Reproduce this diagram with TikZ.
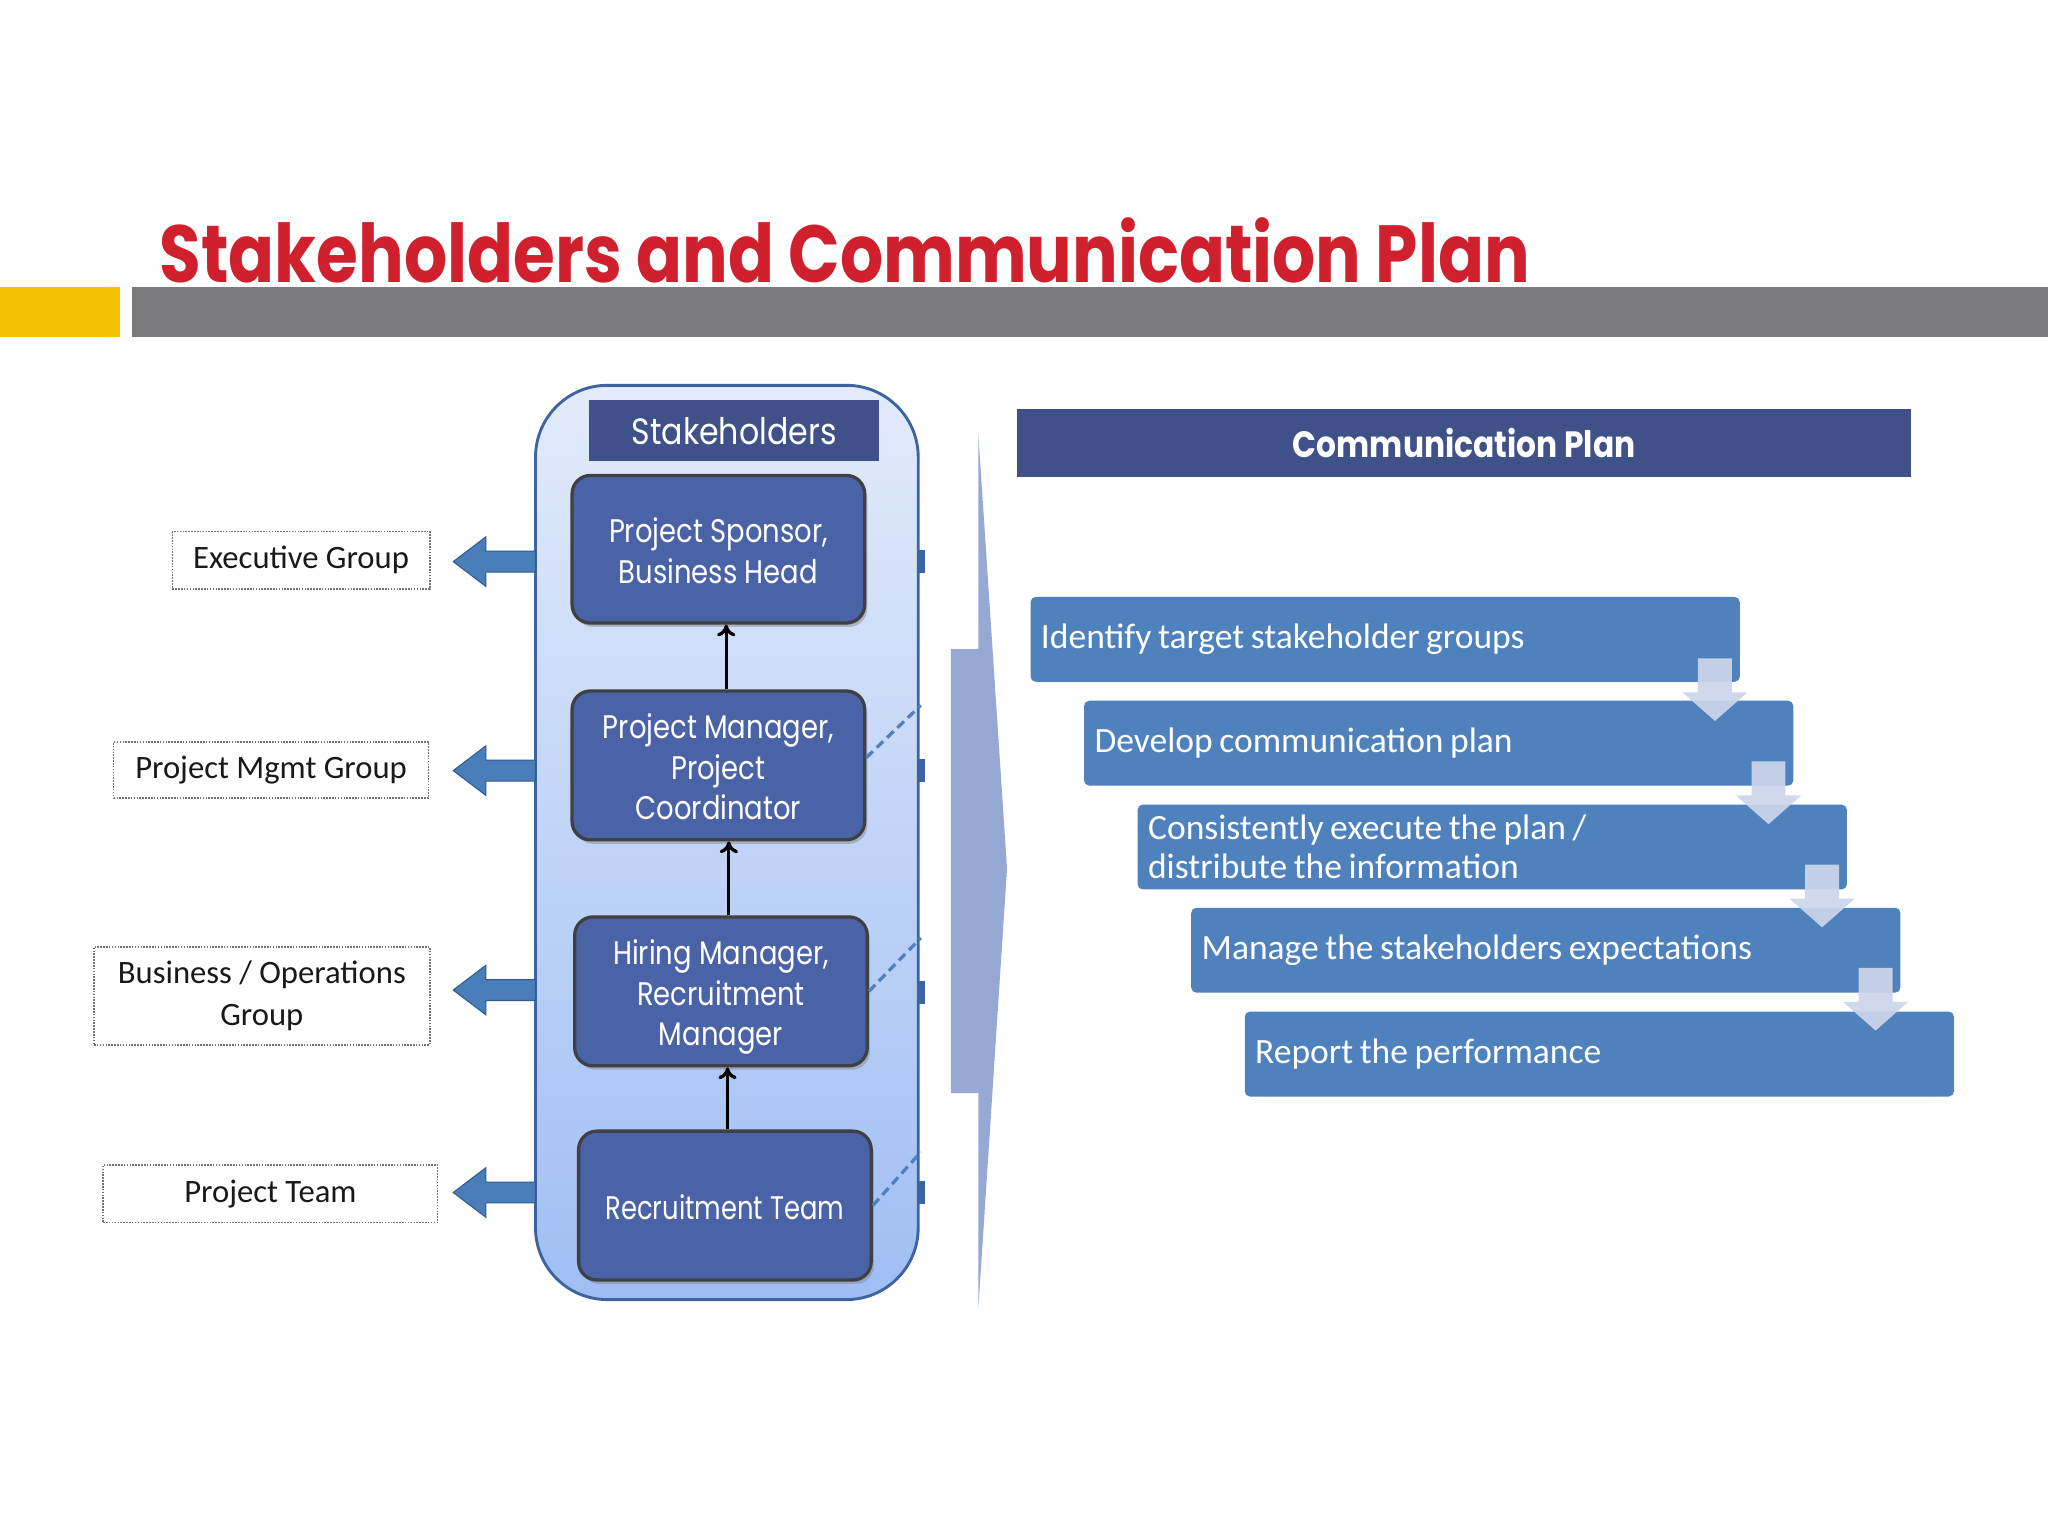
\documentclass[tikz,border=0pt]{standalone}
\usepackage{fontspec}
\setmainfont{Carlito}
\newfontfamily\pop{Poppins}
\usetikzlibrary{shadows,arrows.meta}
\definecolor{titlered}{RGB}{208,32,46}
\definecolor{yellowbar}{RGB}{242,194,0}
\definecolor{graybar}{RGB}{123,122,124}
\definecolor{hdrblue}{RGB}{63,81,136}
\definecolor{boxfill}{RGB}{74,98,166}
\definecolor{boxborder}{RGB}{64,64,68}
\definecolor{contborder}{RGB}{60,100,160}
\definecolor{conttop}{RGB}{226,235,251}
\definecolor{contbot}{RGB}{160,190,244}
\definecolor{larrow}{RGB}{74,126,187}
\definecolor{larrowd}{RGB}{50,90,140}
\definecolor{stepblue}{RGB}{79,129,189}
\definecolor{chev}{RGB}{150,168,212}
\definecolor{darrow}{RGB}{205,214,234}
\definecolor{dashblue}{RGB}{79,129,189}
\newcommand{\twc}[2][0.84]{\raisebox{-4.5pt}[\height][\depth]{\scalebox{#1}[1]{\begin{tabular}{@{}c@{}}#2\end{tabular}}}}
\newcommand{\tightsp}{\spaceskip=5pt plus 1pt minus 0.5pt\relax}
\tikzset{
  sbox/.style={draw=boxborder, line width=2.5pt, fill=boxfill, rounded corners=14pt,
    minimum width=224pt, minimum height=113pt, inner sep=0pt, text=white,
    font=\fontsize{25}{31}\selectfont\pop,
    drop shadow={opacity=0.45, shadow xshift=2pt, shadow yshift=-3pt}},
  lbox/.style={draw=black!55, densely dotted, line width=1.2pt, fill=white, inner sep=0pt,
    font=\fontsize{25}{32}\selectfont, text=black!90, align=center},
  stepbox/.style={fill=stepblue, rounded corners=4pt, minimum width=543pt, minimum height=65pt,
    text width=527pt, inner xsep=8pt, inner ysep=0pt, align=left, text=white,
    font=\fontsize{27.2}{30}\selectfont},
  uparrow/.style={line width=2.5pt, -{To[length=9pt,width=14pt]}},
  blockarrow/.style={fill=larrow, draw=larrowd, line width=0.8pt},
  downarrow/.style={fill=darrow, fill opacity=0.92},
  dashlink/.style={dashblue, dash pattern=on 7pt off 4pt, line width=2.5pt},
}
\begin{document}
\begin{tikzpicture}[x=1pt,y=-1pt]
\useasboundingbox (0,0) rectangle (1568,1176);
\fill[white] (0,0) rectangle (1568,1176);
% title and bars
\node[anchor=base west, inner sep=0pt, text=titlered] (title) at (122,216)
  {\scalebox{0.837}[1]{\fontsize{62}{62}\selectfont\pop\bfseries Stakeholders and Communication Plan}};
\fill[yellowbar] (0,220) rectangle (92,258);
\fill[graybar] (101,220) rectangle (1568,258);
% stakeholders container
\node[draw=contborder, line width=2.2pt, rounded corners=55pt, top color=conttop, bottom color=contbot,
  minimum width=293pt, minimum height=700pt] (cont) at (556.5,645) {};
\foreach \yy in {430,590,760,913}
  \fill[contborder] (703,\yy-9) rectangle (708,\yy+9);
\node[fill=hdrblue, minimum width=222pt, minimum height=47pt, inner sep=0pt, text=white,
  font=\fontsize{28}{30}\selectfont\pop] (sh) at (562,329.5) {\twc[0.865]{Stakeholders}};
% stakeholder boxes
\node[sbox] (b1) at (550,420.5) {\twc{Project Sponsor,\\Business Head}};
\node[sbox, minimum height=114pt] (b2) at (550,586) {\twc{Project Manager,\\Project\\Coordinator}};
\node[sbox, minimum height=114pt] (b3) at (552,759) {\twc{Hiring Manager,\\Recruitment\\Manager}};
\node[sbox, minimum height=114pt] (b4) at (555,923) {\twc[0.79]{Recruitment Team}};
\draw[uparrow] ([xshift=6pt]b2.north) -- ([xshift=6pt]b1.south);
\draw[uparrow] ([xshift=6pt]b3.north) -- ([xshift=8pt]b2.south);
\draw[uparrow] ([xshift=2pt]b4.north) -- ([xshift=5pt]b3.south);
% dashed lines to right edge
\coordinate (d2) at (705,540);
\coordinate (d3) at (705,718);
\coordinate (d4) at (705,882);
\draw[dashlink] ([yshift=6pt]b2.east) -- (d2);
\draw[dashlink] (b3.east) -- (d3);
\draw[dashlink] (b4.east) -- (d4);
% label boxes
\node[lbox, minimum width=197pt, minimum height=44pt] (l1) at (230.5,429) {Executive Group};
\node[lbox, minimum width=241pt, minimum height=43pt] (l2) at (207.5,589.5) {Project Mgmt Group};
\node[lbox, minimum width=257pt, minimum height=75pt] (l3) at (200.5,762.5) {Business / Operations\\Group};
\node[lbox, minimum width=256pt, minimum height=44pt] (l4) at (207,914) {Project Team};
% block arrows to the left
\foreach \c in {430,590,758,913}
  \draw[blockarrow] (410,\c-8) -- (372,\c-8) -- (372,\c-19) -- (347,\c) -- (372,\c+19) -- (372,\c+8) -- (410,\c+8) -- cycle;
% big chevron
\fill[chev] (728,497) -- (749,497) -- (749,332) -- (771,665) -- (749,1002) -- (749,837) -- (728,837) -- cycle;
% communication plan
\node[fill=hdrblue, minimum width=684pt, minimum height=52pt, inner sep=0pt, text=white,
  font=\fontsize{28}{30}\selectfont\pop\bfseries] (cp) at (1121,339) {\twc[0.856]{Communication Plan}};
\node[stepbox] (s1) at (1060.5,489.5) {\tightsp Identify target stakeholder groups};
\node[stepbox] (s2) at (1101.5,569) {\tightsp Develop communication plan};
\node[stepbox] (s3) at (1142.5,648.5) {\tightsp Consistently execute the plan /\\distribute the information};
\node[stepbox] (s4) at (1183.5,727.5) {\tightsp Manage the stakeholders expectations};
\node[stepbox] (s5) at (1224.5,807) {\tightsp Report the performance};
\foreach \k in {0,1,2,3}{
  \pgfmathsetmacro{\xx}{1313+41*\k}
  \pgfmathsetmacro{\yy}{504+79*\k}
  \fill[downarrow] (\xx-13,\yy) -- (\xx+13,\yy) -- (\xx+13,\yy+26) -- (\xx+25,\yy+26) -- (\xx,\yy+48) -- (\xx-25,\yy+26) -- (\xx-13,\yy+26) -- cycle;
}
\end{tikzpicture}
\end{document}
